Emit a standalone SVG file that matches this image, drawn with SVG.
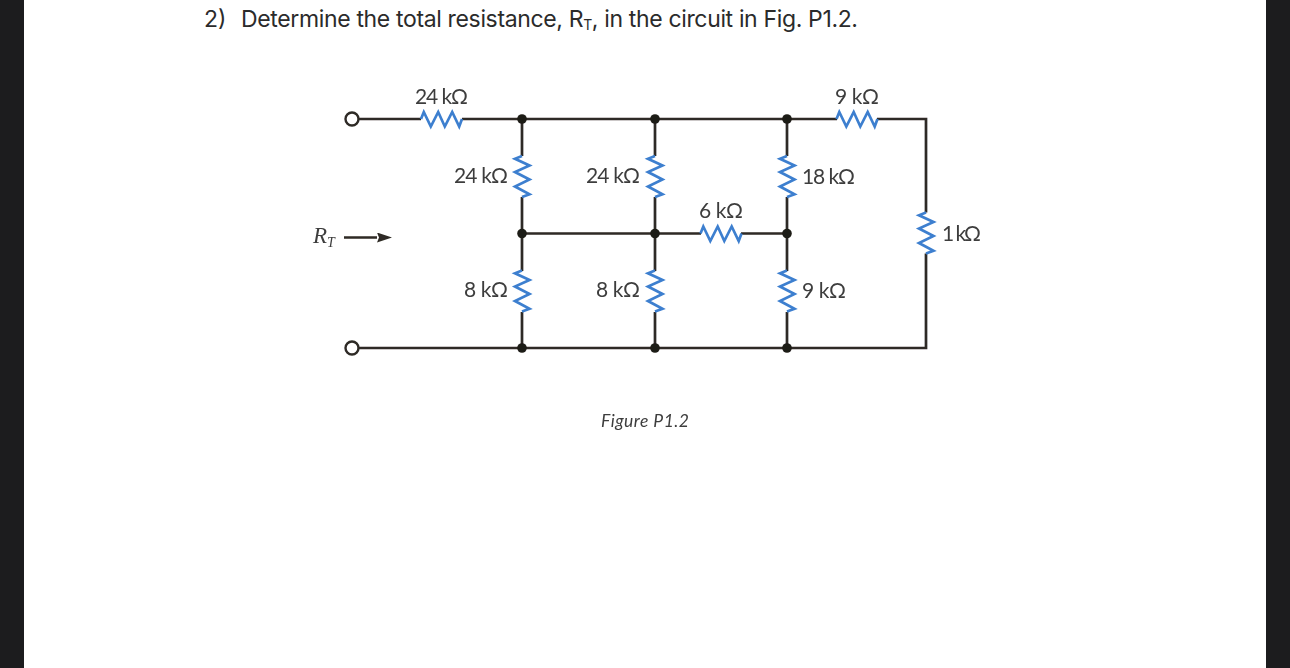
<svg xmlns="http://www.w3.org/2000/svg" xmlns:xlink="http://www.w3.org/1999/xlink" width="1290" height="668" viewBox="0 0 1290 668">
<style>
.title{font-family:Inter,"Liberation Sans",sans-serif;font-size:23px;fill:#2b2b2b}
.lbl{font-family:Lato,"Open Sans",sans-serif;font-size:21px;fill:#3d3d3d}
.cap{font-family:Lato,"Open Sans",sans-serif;font-size:17.5px;font-style:italic;fill:#3d3d3d}
.rt{font-family:"Liberation Serif",serif;font-style:italic;font-size:23px;fill:#3d3d3d}
.w{stroke:#2e2a25;stroke-width:2.7;fill:none}
.r{stroke:#3d7fcf;stroke-width:2.7;fill:none;stroke-linejoin:miter}
.d{fill:#1f1b16}
.t{fill:#fff;stroke:#2e2a25;stroke-width:2.4}
</style>
<defs>
<filter id="soft" x="0" y="0" width="1" height="1"><feGaussianBlur stdDeviation="0.45"/></filter>
<path id="rh" class="r" d="M-20.5,0 L-17.7,-7 L-10.7,7.5 L-3.3,-7 L3.3,7.5 L10.7,-7 L17.7,7.5 L20.5,0"/>
<path id="rv" class="r" d="M0,-20.5 L-7,-17.7 L7.5,-11 L-7,-4.5 L7.5,3 L-7,10 L7.5,17.7 L0,20.5"/>
<marker id="ah" markerWidth="15" markerHeight="10" refX="0" refY="5" orient="auto" markerUnits="userSpaceOnUse"><path d="M0,0 L15,5 L0,10 L2,5 Z" fill="#2e2a25"/></marker>
</defs>
<rect width="1290" height="668" fill="#fff"/>
<rect width="24" height="668" fill="#1c1c1e"/>
<rect x="1266" width="24" height="668" fill="#1c1c1e"/>
<text class="title" x="204" y="27">2)</text>
<text class="title" x="241" y="27" textLength="617" lengthAdjust="spacing">Determine the total resistance, R<tspan font-size="14" dy="3">T</tspan><tspan dy="-3">, in the circuit in Fig. P1.2.</tspan></text>
<g filter="url(#soft)">
<g id="connectors">
<path class="w" d="M359,119 H421 M462,119 H837 M877,119 H926 V212.5 M926,253.5 V348 H359"/>
<path class="w" d="M522,119 V156 M522,197 V271 M522,312 V348"/>
<path class="w" d="M655,119 V156 M655,197 V271 M655,312 V348"/>
<path class="w" d="M787,119 V156 M787,197 V271 M787,312 V348"/>
<path class="w" d="M522,233.5 H701 M741,233.5 H787"/>
<path class="w" style="stroke-width:2.4" d="M344,237.5 H377" marker-end="url(#ah)"/>
</g>
<g id="term-top"><circle class="t" cx="352" cy="119" r="6.5"/></g>
<g id="term-bottom"><circle class="t" cx="352" cy="348" r="6.5"/></g>
<g id="j1"><circle class="d" cx="522" cy="119" r="4.8"/></g>
<g id="j2"><circle class="d" cx="655" cy="119" r="4.8"/></g>
<g id="j3"><circle class="d" cx="787" cy="119" r="4.8"/></g>
<g id="j4"><circle class="d" cx="522" cy="233.5" r="4.8"/></g>
<g id="j5"><circle class="d" cx="655" cy="233.5" r="4.8"/></g>
<g id="j6"><circle class="d" cx="787" cy="233.5" r="4.8"/></g>
<g id="j7"><circle class="d" cx="522" cy="348" r="4.8"/></g>
<g id="j8"><circle class="d" cx="655" cy="348" r="4.8"/></g>
<g id="j9"><circle class="d" cx="787" cy="348" r="4.8"/></g>
<g id="r1"><use xlink:href="#rh" href="#rh" x="441.5" y="119"/><text class="lbl" x="415" y="104" textLength="53">24 kΩ</text></g>
<g id="r2"><use xlink:href="#rv" href="#rv" x="522" y="176.5"/><text class="lbl" x="454" y="183" textLength="54">24 kΩ</text></g>
<g id="r3"><use xlink:href="#rv" href="#rv" x="655" y="176.5"/><text class="lbl" x="586" y="183" textLength="54">24 kΩ</text></g>
<g id="r4"><use xlink:href="#rv" href="#rv" x="787" y="176.5"/><text class="lbl" x="802" y="184" textLength="53">18 kΩ</text></g>
<g id="r5"><use xlink:href="#rh" href="#rh" x="857" y="119"/><text class="lbl" x="835" y="104" textLength="44">9 kΩ</text></g>
<g id="r6"><use xlink:href="#rh" href="#rh" x="721" y="233.5"/><text class="lbl" x="699" y="218" textLength="44">6 kΩ</text></g>
<g id="r7"><use xlink:href="#rv" href="#rv" x="522" y="291"/><text class="lbl" x="464" y="297" textLength="44">8 kΩ</text></g>
<g id="r8"><use xlink:href="#rv" href="#rv" x="655" y="291"/><text class="lbl" x="596" y="297" textLength="44">8 kΩ</text></g>
<g id="r9"><use xlink:href="#rv" href="#rv" x="787" y="291"/><text class="lbl" x="802" y="298" textLength="44">9 kΩ</text></g>
<g id="r10"><use xlink:href="#rv" href="#rv" x="926" y="233"/><text class="lbl" x="942" y="241" textLength="39">1 kΩ</text></g>
<text class="rt" x="313" y="243">R<tspan font-size="14" dy="4">T</tspan></text>
<text class="cap" x="601" y="427" textLength="88">Figure P1.2</text>
</g>
</svg>
